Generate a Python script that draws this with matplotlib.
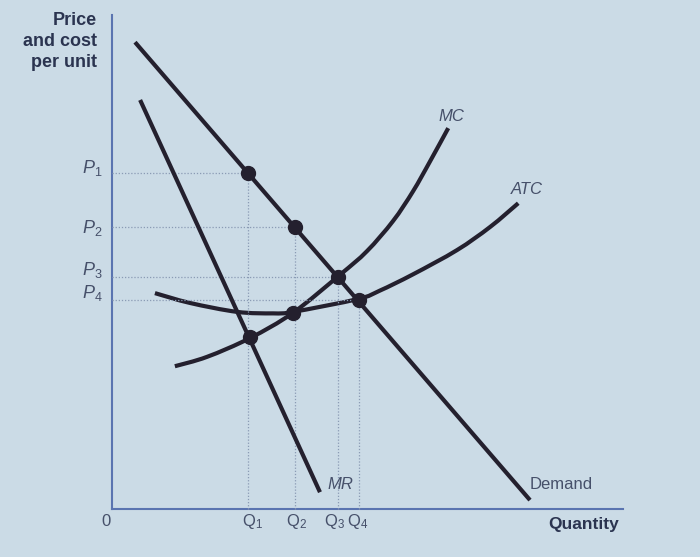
import matplotlib
matplotlib.use("Agg")
import matplotlib.pyplot as plt
import numpy as np
from matplotlib.path import Path
from matplotlib.patches import PathPatch

# --- data (quantity / price on a 0-100 scale) ---
demand_q = [4.5, 81.8]
demand_p = [94.5, 1.8]

mr_q = [5.5, 40.7]
mr_p = [82.8, 3.4]

mc_q = [12.3, 18.6, 27.0, 35.4, 44.6, 49.9, 55.0, 58.9, 62.2, 65.8]
mc_p = [28.9, 30.8, 34.6, 39.7, 47.4, 52.2, 58.3, 64.3, 70.3, 77.1]

atc_q = [8.4, 15.3, 24.5, 31.5, 35.4, 48.1, 52.4, 58.9, 67.5, 74.0, 79.5]
atc_p = [43.7, 41.7, 39.9, 39.6, 39.9, 42.5, 44.2, 47.5, 52.4, 57.1, 61.9]

# price levels P1..P4 and quantities Q1..Q4 (dots on demand)
q_levels = [26.6, 35.8, 44.2, 48.3]
p_levels = [68.0, 57.1, 47.0, 42.3]
p_labels = [r"$P_1$", r"$P_2$", r"$P_3$", r"$P_4$"]
q_labels = [r"$\mathrm{Q}_1$", r"$\mathrm{Q}_2$", r"$\mathrm{Q}_3$", r"$\mathrm{Q}_4$"]

# other dots: MR = MC and MC = ATC
extra_q = [27.1, 35.5]
extra_p = [34.8, 39.7]

bg = "#cbdbe6"
ink = "#24202e"
txt = "#2b3450"
lbl = "#46506a"
axis_col = "#5a74b0"
dot_col = "#8a9bb4"

plt.rcParams["font.family"] = ["Liberation Sans", "DejaVu Sans"]
plt.rcParams["mathtext.fontset"] = "custom"
plt.rcParams["mathtext.rm"] = "Liberation Sans"
plt.rcParams["mathtext.it"] = "Liberation Sans:italic"


def smooth_path(xs, ys):
    # Catmull-Rom through the read points, drawn as cubic Bezier segments
    pts = np.column_stack([xs, ys])
    verts = [pts[0]]
    codes = [Path.MOVETO]
    for i in range(len(pts) - 1):
        p0 = pts[max(i - 1, 0)]
        p1, p2 = pts[i], pts[i + 1]
        p3 = pts[min(i + 2, len(pts) - 1)]
        verts += [p1 + (p2 - p0) / 6, p2 - (p3 - p1) / 6, p2]
        codes += [Path.CURVE4] * 3
    return Path(verts, codes)


fig = plt.figure(figsize=(7, 5.57), dpi=100, facecolor=bg)
ax = fig.add_axes([0, 0, 1, 1])
ax.set_facecolor(bg)
ax.set_xlim(-21.92, 115.07)
ax.set_ylim(-9.72, 103.04)
ax.axis("off")

# axes
ax.plot([0, 0], [0, 100], color=axis_col, lw=1.5)
ax.plot([0, 100], [0, 0], color=axis_col, lw=1.5)

# dotted guides
for q, p in zip(q_levels, p_levels):
    ax.plot([0, q], [p, p], color=dot_col, lw=0.9, ls=(0, (1, 1.5)))
    ax.plot([q, q], [0, p], color=dot_col, lw=0.9, ls=(0, (1, 1.5)))

# curves
ax.plot(demand_q, demand_p, color=ink, lw=3, solid_capstyle="butt")
ax.plot(mr_q, mr_p, color=ink, lw=3, solid_capstyle="butt")
for xs, ys in [(mc_q, mc_p), (atc_q, atc_p)]:
    ax.add_patch(PathPatch(smooth_path(xs, ys), fill=False, edgecolor=ink,
                           lw=3, capstyle="butt"))

ax.plot(q_levels, p_levels, "o", color=ink, ms=10)
ax.plot(extra_q, extra_p, "o", color=ink, ms=10)

# labels
ax.text(-2.94, 100.6, "Price\nand cost\nper unit", ha="right", va="top",
        fontsize=13, fontweight="bold", color=txt, linespacing=1.3)
p_text_y = [69.0, 56.9, 48.4, 43.7]
for lab, y in zip(p_labels, p_text_y):
    ax.text(-3.9, y, lab, ha="center", va="center", fontsize=13, color=lbl)
q_text_x = [27.4, 36.2, 43.6, 48.1]
for lab, x in zip(q_labels, q_text_x):
    ax.text(x, -2.6, lab, ha="center", va="center", fontsize=12, color=lbl)
ax.text(-1.2, -2.6, "0", ha="center", va="center", fontsize=12, color=lbl)
ax.text(92.2, -3.2, "Quantity", ha="center", va="center", fontsize=12.5,
        fontweight="bold", color=txt)
ax.text(42.1, 4.9, "MR", ha="left", va="center", fontsize=12, style="italic", color=lbl)
ax.text(81.8, 4.9, "Demand", ha="left", va="center", fontsize=12, color=lbl)
ax.text(66.5, 79.4, "MC", ha="center", va="center", fontsize=12, style="italic", color=lbl)
ax.text(81.2, 64.6, "ATC", ha="center", va="center", fontsize=12, style="italic", color=lbl)

fig.savefig("out.png", dpi=100, facecolor=bg)
